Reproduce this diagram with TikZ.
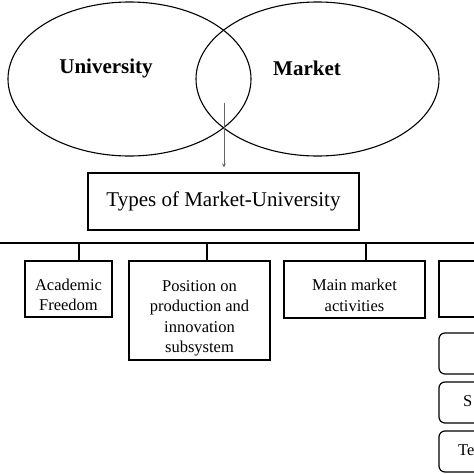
\documentclass[tikz,border=0pt]{standalone}
\usepackage{fontspec}
\setmainfont{Liberation Serif}
\usetikzlibrary{arrows.meta}

\tikzset{
  box/.style={draw, line width=1.2pt, inner sep=0pt},
  boxtext/.style={align=center, inner sep=0pt, yshift=-6pt, font=\fontsize{16.5}{20.5}\selectfont},
  roundbox/.style={draw, line width=1.2pt, rounded corners=6pt, inner sep=0pt}
}

\begin{document}
\begin{tikzpicture}[x=1pt, y=-1pt]
  \useasboundingbox (0,0) rectangle (474,474);
  \clip (0,0) rectangle (474,474);

  \draw[line width=1.1pt] (129.5,79) ellipse [x radius=121.5, y radius=77];
  \draw[line width=1.1pt] (317.5,79) ellipse [x radius=121.5, y radius=77];
  \node[font=\fontsize{21}{25}\selectfont\bfseries] (U) at (106,68) {University};
  \node[font=\fontsize{21}{25}\selectfont\bfseries] (M) at (307,68) {Market};

  \node[draw, line width=1.2pt, minimum width=271, minimum height=57, inner sep=0pt,
        font=\fontsize{21}{25}\selectfont] (T) at (223.5,201.5) {Types of Market-University};
  \coordinate (O) at (224,103);
  \draw[gray!80!black, line width=0.6pt, -{Stealth[length=4pt, width=4pt, open]}, shorten >=5pt] (O) to (O |- T.north);

  % bus line
  \coordinate (L) at (0,243);
  \coordinate (R) at (474,243);
  \draw[line width=1.2pt] (L) to (R);

  \node[box, minimum width=87, minimum height=56,
        label={[boxtext]center:Academic\\Freedom}] (A) at (68.5,289) {};
  \node[box, minimum width=141, minimum height=99,
        label={[boxtext, yshift=-2pt]center:Position on\\production and\\innovation\\subsystem}] (P) at (199.5,310.5) {};
  \node[box, minimum width=141, minimum height=57,
        label={[boxtext]center:Main market\\activities}] (MA) at (354.5,289.5) {};
  \node[box, minimum width=141, minimum height=56] (X) at (509.5,289) {};

  \coordinate (t1) at (79,243);
  \coordinate (t2) at (207,243);
  \coordinate (t3) at (366,243);
  \draw[line width=1.2pt] (t1) to (t1 |- A.north);
  \draw[line width=1.2pt] (t2) to (t2 |- P.north);
  \draw[line width=1.2pt] (t3) to (t3 |- MA.north);

  \node[roundbox, minimum width=141, minimum height=41] (R1) at (509.5,353.5) {};
  \node[roundbox, minimum width=141, minimum height=41] (R2) at (509.5,402.5) {};
  \node[roundbox, minimum width=141, minimum height=41] (R3) at (509.5,451.5) {};
  \node[font=\fontsize{16.5}{20.5}\selectfont, anchor=west, inner sep=0pt] (S) at (463,401) {S};
  \node[font=\fontsize{16.5}{20.5}\selectfont, anchor=west, inner sep=0pt] (Te) at (458,450) {Te};
\end{tikzpicture}
\end{document}
